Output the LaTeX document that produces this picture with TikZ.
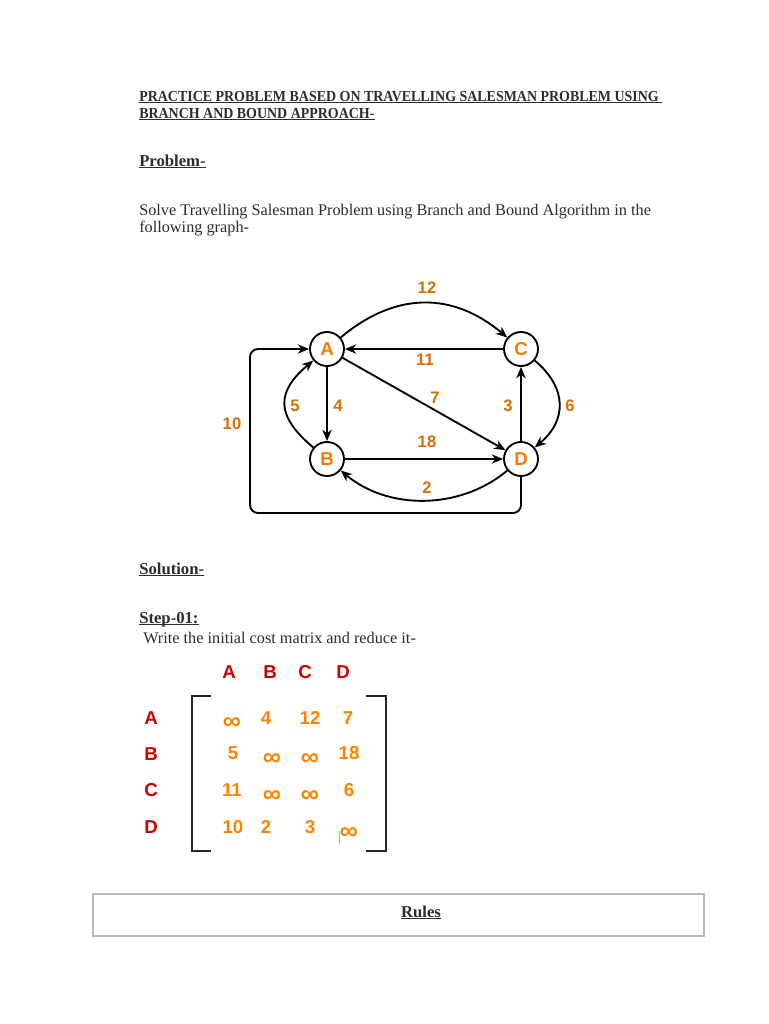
\documentclass[tikz,border=0pt]{standalone}
\usepackage{fontspec}
\setmainfont{Liberation Serif}
\newfontfamily\arialfont{Liberation Sans}
\newfontfamily\titlefont[FakeStretch=0.91]{Liberation Serif}
\usetikzlibrary{arrows.meta}

\definecolor{edgeorange}{RGB}{214,112,10}
\definecolor{vertorange}{RGB}{240,125,0}
\definecolor{cellorange}{RGB}{255,130,0}
\definecolor{headred}{RGB}{204,0,0}
\definecolor{bodygray}{RGB}{45,45,45}

% underline at a fixed depth below the baseline
\newcommand\wordul[1]{\setbox0\hbox{#1}\rlap{\rule[-1.6pt]{\wd0}{0.7pt}}\box0}

\begin{document}
\begin{tikzpicture}[
	x=0.75pt, y=0.75pt,
	body/.style  = {anchor=base west, inner sep=0pt, text=bodygray, font=\fontsize{12.2}{14}\selectfont},
	head/.style  = {body, font=\fontsize{12.5}{14}\selectfont\bfseries},
	title/.style = {body, font=\titlefont\fontsize{11.5}{13}\selectfont\bfseries},
	vert/.style  = {draw, circle, line width=1.4pt, minimum size=25.5pt, inner sep=0pt, text=vertorange,
		font=\arialfont\bfseries\fontsize{14}{14}\selectfont},
	wt/.style    = {inner sep=0pt, text=edgeorange, font=\arialfont\bfseries\fontsize{12.5}{12.5}\selectfont},
	arc/.style   = {-{Stealth[length=8.5pt, width=7pt]}, line width=1.4pt},
	hdr/.style   = {inner sep=0pt, text=headred, font=\arialfont\bfseries\fontsize{14}{14}\selectfont},
	cell/.style  = {inner sep=0pt, text=cellorange, font=\arialfont\bfseries\fontsize{14}{14}\selectfont},
	inf/.style   = {cell, font=\arialfont\bfseries\fontsize{19}{19}\selectfont},
	brk/.style   = {line width=1.5pt, black!85}]

	% page
	\useasboundingbox (0,0) rectangle (768,-1024);
	\fill[white] (0,0) rectangle (768,-1024);

	% text of the page
	\node[title] (title1) at (139,-101) {\wordul{PRACTICE PROBLEM BASED ON TRAVELLING SALESMAN PROBLEM USING\ }};
	\node[title] (title2) at (139,-118) {\wordul{BRANCH AND BOUND APPROACH-}};
	\node[head] (prob) at (139,-166) {\wordul{Problem-}};
	\node[body] (task1) at (139,-215) {Solve Travelling Salesman Problem using Branch and Bound Algorithm in the};
	\node[body] (task2) at (139,-232) {following graph-};
	\node[head] (sol) at (139,-574) {\wordul{Solution-}};
	\node[head] (step) at (139,-623) {\wordul{Step-01:}};
	\node[body] (write) at (143,-643) {Write the initial cost matrix and reduce it-};

	% the four cities
	\node[vert] (A) at (327,-349) {A};
	\node[vert] (C) at (521,-349) {C};
	\node[vert] (B) at (327,-459) {B};
	\node[vert] (D) at (521,-459) {D};
	\coordinate (ret) at (250,-513);

	% roads
	\draw[arc] (A) to[out=40, in=140, looseness=1.1] (C);
	\draw[arc] (C) -- (A);
	\draw[arc] (A) -- (B);
	\draw[arc] (B) to[out=140, in=220, looseness=1.45] (A);
	\draw[arc] (A) -- (D);
	\draw[arc] (D) -- (C);
	\draw[arc] (C) to[out=-40, in=40, looseness=1.25] (D);
	\draw[arc] (B) -- (D);
	\draw[arc] (D) to[out=220, in=320, looseness=0.95] (B);
	\draw[arc, rounded corners=6] (D.south) |- (ret) |- (A.west);

	% costs of the roads
	\foreach \nm/\x/\y/\w in {w1/427/288/12, w2/425/360/11, w3/435/398/7, w4/295/406/5, w5/338/406/4,
		w6/508/406/3, w7/570/406/6, w8/427/442/18, w9/427/488/2, w10/232/424/10}
	\node[wt] (\nm) at (\x,-\y) {\w};

	% cost matrix, labels
	\foreach \nm/\x in {A/229, B/270, C/305, D/343}
	\node[hdr] (col\nm) at (\x,-672) {\nm};
	\foreach \nm/\y in {A/718, B/754, C/790, D/827}
	\node[hdr] (row\nm) at (151,-\y) {\nm};

	% cost matrix, finite entries
	\foreach \nm/\x/\y/\v in {ab/266/718/4, ac/310/718/12, ad/348/718/7,
		ba/233/753/5, bd/349/753/18, ca/232/790/11, cd/349/790/6,
		da/233/827/10, db/266/827/2, dc/310/827/3}
	\node[cell] (m\nm) at (\x,-\y) {\v};

	% cost matrix, the diagonal and the missing roads
	\foreach \nm/\x/\y in {aa/232/724, bb/272/760, bc/310/760, cb/272/797, cc/310/797, dd/349/834}
	\node[inf] (m\nm) at (\x,-\y) {∞};

	% brackets
	\draw[brk] (211,-696) -- (192,-696) -- (192,-851) -- (211,-851);
	\draw[brk] (366,-696) -- (386,-696) -- (386,-851) -- (366,-851);
	\draw[gray!60, line width=0.5pt] (339,-831) -- (339,-844);

	% rules box
	\draw[gray!55, line width=0.8pt] (93,-894) rectangle (704,-936);
	\node[head, anchor=base] (rules) at (421,-917) {\wordul{Rules}};
\end{tikzpicture}
\end{document}
